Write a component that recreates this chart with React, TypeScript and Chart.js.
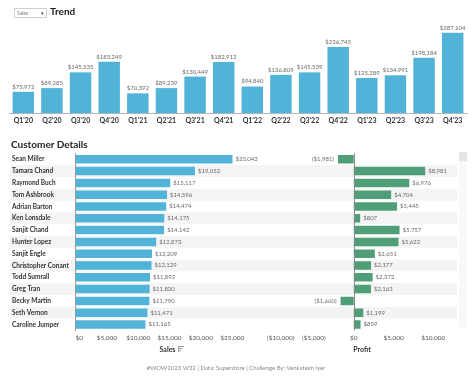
import React, { useEffect, useRef } from "react";
import { Chart, registerables } from "chart.js";

Chart.register(...registerables);

const quarters = ["Q1'20", "Q2'20", "Q3'20", "Q4'20", "Q1'21", "Q2'21", "Q3'21", "Q4'21", "Q1'22", "Q2'22", "Q3'22", "Q4'22", "Q1'23", "Q2'23", "Q3'23", "Q4'23"];
const quarterSales = [75972, 89285, 145535, 183249, 70392, 89239, 130449, 182912, 94840, 136809, 145539, 236745, 125289, 134991, 198184, 287104];

const customers = ["Sean Miller", "Tamara Chand", "Raymond Buch", "Tom Ashbrook", "Adrian Barton", "Ken Lonsdale", "Sanjit Chand", "Hunter Lopez", "Sanjit Engle", "Christopher Conant", "Todd Sumrall", "Greg Tran", "Becky Martin", "Seth Vernon", "Caroline Jumper"];
const customerSales = [25043, 19052, 15117, 14596, 14474, 14175, 14142, 12873, 12209, 12129, 11892, 11820, 11790, 11471, 11165];
const customerProfit = [-1981, 8981, 6976, 4704, 5445, 807, 5757, 5622, 2651, 2177, 2372, 2163, -1660, 1199, 859];

const salesTicks = [0, 5000, 10000, 15000, 20000, 25000];
const profitTicks = [-10000, -5000, 0, 5000, 10000];

const BLUE = "#52b3d9";
const GREEN = "#4f9e78";
const FONT = "Lato, 'Open Sans', sans-serif";

function money(v: number): string {
  const s = "$" + String(Math.abs(Math.round(v))).replace(/\B(?=(\d{3})+(?!\d))/g, ",");
  return v < 0 ? "(" + s + ")" : s;
}

function drawTickLabels(chart: any, ticks: number[]) {
  const ctx = chart.ctx;
  const x = chart.scales.x;
  const area = chart.chartArea;
  ctx.save();
  ctx.font = `6.5px ${FONT}`;
  ctx.fillStyle = "#555";
  ctx.textBaseline = "middle";
  ctx.textAlign = "center";
  ticks.forEach((t) => {
    const txt = money(t);
    const w = ctx.measureText(txt).width;
    let px = x.getPixelForValue(t);
    if (px - w / 2 < area.left) px = area.left + w / 2;
    if (px + w / 2 > area.right) px = area.right - w / 2;
    ctx.fillText(txt, px, area.bottom + 8);
  });
  ctx.restore();
}

function drawBarValues(chart: any, values: number[]) {
  const ctx = chart.ctx;
  const meta = chart.getDatasetMeta(0);
  ctx.save();
  ctx.font = `6px ${FONT}`;
  ctx.fillStyle = "#6b6b6b";
  ctx.textBaseline = "middle";
  meta.data.forEach((el: any, i: number) => {
    const v = values[i];
    if (v < 0) {
      ctx.textAlign = "right";
      ctx.fillText(money(v), el.x - 4, el.y);
    } else {
      ctx.textAlign = "left";
      ctx.fillText(money(v), el.x + 3, el.y);
    }
  });
  ctx.restore();
}

const trendLabels = {
  id: "trendLabels",
  afterDatasetsDraw(chart: any) {
    const ctx = chart.ctx;
    const meta = chart.getDatasetMeta(0);
    ctx.save();
    ctx.font = `6px ${FONT}`;
    ctx.fillStyle = "#6b6b6b";
    ctx.textAlign = "center";
    ctx.textBaseline = "bottom";
    meta.data.forEach((el: any, i: number) => {
      ctx.fillText(money(quarterSales[i]), el.x, el.y - 2);
    });
    ctx.restore();
  },
};

const stripes = {
  id: "stripes",
  beforeDraw(chart: any) {
    const y = chart.scales.y;
    const ctx = chart.ctx;
    const step = (y.bottom - y.top) / customers.length;
    ctx.save();
    ctx.fillStyle = "#f4f4f4";
    customers.forEach((_c, i) => {
      if (i % 2 === 1) {
        const cy = y.getPixelForValue(i);
        ctx.fillRect(10, cy - step / 2, 447, step);
      }
    });
    ctx.restore();
  },
};

const salesExtras = {
  id: "salesExtras",
  afterDatasetsDraw(chart: any) {
    drawBarValues(chart, customerSales);
    drawTickLabels(chart, salesTicks);
  },
};

const profitExtras = {
  id: "profitExtras",
  afterDatasetsDraw(chart: any) {
    const ctx = chart.ctx;
    const x = chart.scales.x;
    const area = chart.chartArea;
    const zx = Math.round(x.getPixelForValue(0)) + 0.5;
    ctx.save();
    ctx.strokeStyle = "#8a8a8a";
    ctx.lineWidth = 1;
    ctx.beginPath();
    ctx.moveTo(zx, area.top);
    ctx.lineTo(zx, area.bottom);
    ctx.stroke();
    ctx.restore();
    drawBarValues(chart, customerProfit);
    drawTickLabels(chart, profitTicks);
  },
};

const W = 474;
const BOTTOM_TOP = 146;
const BOTTOM_H = 214;

export default function App() {
  const trendRef = useRef<HTMLCanvasElement>(null);
  const salesRef = useRef<HTMLCanvasElement>(null);
  const profitRef = useRef<HTMLCanvasElement>(null);

  useEffect(() => {
    document.body.style.margin = "0";
    const charts: Chart[] = [];

    charts.push(
      new Chart(trendRef.current!, {
        type: "bar",
        data: {
          labels: quarters,
          datasets: [{ data: quarterSales, backgroundColor: BLUE, categoryPercentage: 1, barPercentage: 0.75 }],
        },
        options: {
          animation: false,
          responsive: false,
          layout: { padding: { left: 9, right: 7, top: 22, bottom: 0 } },
          plugins: { legend: { display: false }, tooltip: { enabled: false } },
          scales: {
            x: {
              grid: { display: false, drawTicks: false },
              border: { display: true, color: "#b5b5b5" },
              ticks: { font: { family: FONT, size: 7, weight: "bold" }, color: "#333", padding: 4, maxRotation: 0, autoSkip: false },
              afterFit: (s: any) => { s.height = 17; },
            },
            y: { display: false, min: 0, max: 326000 },
          },
        } as any,
        plugins: [trendLabels],
      })
    );

    charts.push(
      new Chart(salesRef.current!, {
        type: "bar",
        data: {
          labels: customers,
          datasets: [{ data: customerSales, backgroundColor: BLUE, categoryPercentage: 1, barPercentage: 0.72 }],
        },
        options: {
          animation: false,
          responsive: false,
          indexAxis: "y",
          layout: { padding: { left: 12, right: 223, top: 7.4, bottom: 29.6 } },
          plugins: { legend: { display: false }, tooltip: { enabled: false } },
          scales: {
            x: { display: false, min: 0, max: 28000 },
            y: {
              grid: { display: false, drawTicks: false },
              border: { display: true, color: "#9a9a9a" },
              ticks: { crossAlign: "far", font: { family: FONT, size: 6.5, weight: "bold" }, color: "#333", padding: 0, autoSkip: false },
              afterFit: (s: any) => { s.width = 63.5; },
            },
          },
        } as any,
        plugins: [stripes, salesExtras],
      })
    );

    charts.push(
      new Chart(profitRef.current!, {
        type: "bar",
        data: {
          labels: customers,
          datasets: [{ data: customerProfit, backgroundColor: GREEN, categoryPercentage: 1, barPercentage: 0.72 }],
        },
        options: {
          animation: false,
          responsive: false,
          indexAxis: "y",
          layout: { padding: { left: 267, right: 16, top: 7.4, bottom: 29.6 } },
          plugins: { legend: { display: false }, tooltip: { enabled: false } },
          scales: {
            x: { display: false, min: -10900, max: 13100 },
            y: { display: false },
          },
        } as any,
        plugins: [profitExtras],
      })
    );

    return () => charts.forEach((c) => c.destroy());
  }, []);

  const abs = (s: React.CSSProperties): React.CSSProperties => ({ position: "absolute", ...s });

  return (
    <div style={{ position: "absolute", left: 0, top: 0, width: W, height: 376, background: "#fff", fontFamily: FONT, overflow: "hidden" }}>
      <canvas ref={trendRef} width={W} height={130} style={abs({ left: 0, top: 0, width: W, height: 130 })} />
      <canvas ref={salesRef} width={W} height={BOTTOM_H} style={abs({ left: 0, top: BOTTOM_TOP, width: W, height: BOTTOM_H })} />
      <canvas ref={profitRef} width={W} height={BOTTOM_H} style={abs({ left: 0, top: BOTTOM_TOP, width: W, height: BOTTOM_H })} />

      <div style={abs({ left: 14, top: 8, width: 31, height: 8, border: "1px solid #cfcfcf", background: "#fff" })}>
        <span style={abs({ left: 2, top: 1, fontSize: 5, lineHeight: "6px", color: "#777" })}>Sales</span>
        <span style={abs({ right: 2, top: 1, fontSize: 5, lineHeight: "6px", color: "#333" })}>▾</span>
      </div>
      <div style={abs({ left: 50, top: 6, fontSize: 10, lineHeight: "11px", fontWeight: 700, color: "#222" })}>Trend</div>
      <div style={abs({ left: 11, top: 139, fontSize: 10, lineHeight: "11px", fontWeight: 700, color: "#222" })}>Customer Details</div>

      <div style={abs({ left: 459, top: 152, width: 8, height: 176, background: "#f9f9f9" })} />
      <div style={abs({ left: 459, top: 152, width: 8, height: 9, background: "#e6e6e6" })} />

      <div style={abs({ left: 150, top: 345, width: 44, textAlign: "center", fontSize: 7, lineHeight: "9px", fontWeight: 700, color: "#333" })}>
        Sales
        <svg width="6" height="6" viewBox="0 0 6 6" style={{ marginLeft: 3 }}>
          <path d="M0.5 0 V6 M0.5 0.5 H6 M0.5 2.5 H4.5 M0.5 4.5 H3" stroke="#888" strokeWidth="0.8" fill="none" />
        </svg>
      </div>
      <div style={abs({ left: 342, top: 345, width: 40, textAlign: "center", fontSize: 7, lineHeight: "9px", fontWeight: 700, color: "#333" })}>Profit</div>

      <div style={abs({ left: 0, top: 364, width: W - 2, textAlign: "center", fontSize: 6, lineHeight: "8px", color: "#8a8a8a" })}>
        #WOW2023 W32 | Data: Superstore | Challenge By: Venkatesh Iyer
      </div>
    </div>
  );
}
